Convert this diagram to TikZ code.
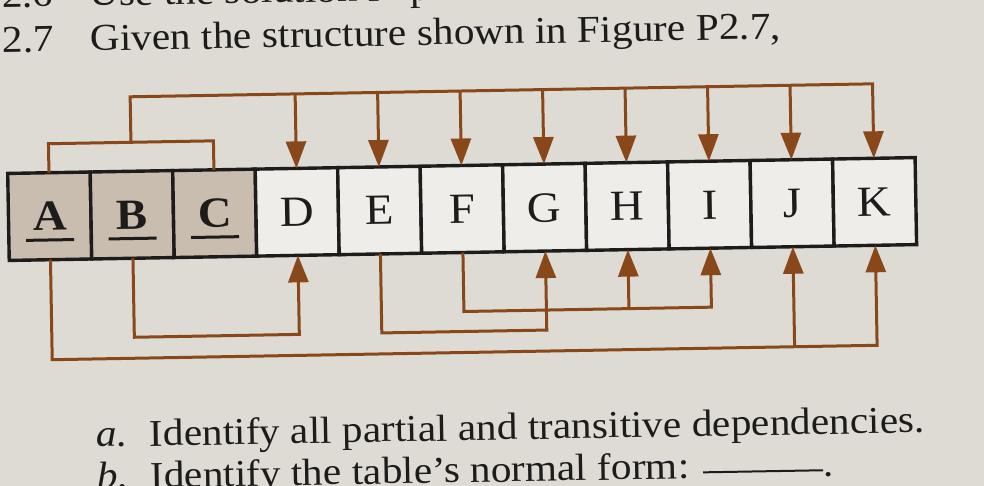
\documentclass[tikz,border=0pt]{standalone}
\usepackage{fontspec}
\setmainfont{Liberation Serif}[FakeStretch=1.09]
\usetikzlibrary{positioning, arrows.meta}

\definecolor{paper}{RGB}{222,219,213}
\definecolor{keytan}{RGB}{201,189,175}
\definecolor{attrpale}{RGB}{239,237,233}
\definecolor{depbrown}{RGB}{136,72,26}
\definecolor{inkgray}{RGB}{30,28,26}

% underlined key attribute
\newcommand{\pkey}[1]{\ooalign{\hfil\textbf{#1}\hfil\cr\hfil\rule[-11pt]{48pt}{3pt}\hfil\cr}}

\tikzset{
  attr/.style={draw=inkgray, line width=3.4pt, fill=attrpale, text=inkgray,
    minimum width=82.5pt, minimum height=87pt, inner sep=0pt, outer sep=0pt,
    font=\fontsize{43}{43}\selectfont, text height=28.5pt, text depth=0pt},
  keyattr/.style={attr, fill=keytan},
  dep/.style={draw=depbrown, line width=3pt},
  deparrow/.style={dep, -{Triangle[length=27pt, width=20pt]}},
  prob/.style={anchor=base west, inner sep=0pt, text=inkgray,
    font=\fontsize{37.9}{42}\selectfont}
}

\begin{document}
\begin{tikzpicture}[x=1pt, y=-1pt]
  \useasboundingbox (0,0) rectangle (984,486);
  \fill[paper] (0,0) rectangle (984,486);
  \clip (0,0) rectangle (984,486);

  \begin{scope}[rotate around={1:(492,243)}, transform shape]
    % question text
    \node[prob] (prevq) at (6,-1) {2.6\hspace{36pt}Use the solution in p};
    \node[prob] (thisq) at (6,44) {2.7\hspace{36pt}Given the structure shown in Figure P2.7,};

    % the table
    \node[keyattr] (A) at (50.25,208.5) {\pkey{A}};
    \node[keyattr, right=0pt of A] (B) {\pkey{B}};
    \node[keyattr, right=0pt of B] (C) {\pkey{C}};
    \node[attr, right=0pt of C] (D) {D};
    \node[attr, right=0pt of D] (E) {E};
    \node[attr, right=0pt of E] (F) {F};
    \node[attr, right=0pt of F] (G) {G};
    \node[attr, right=0pt of G] (H) {H};
    \node[attr, right=0pt of H] (I) {I};
    \node[attr, right=0pt of I] (J) {J};
    \node[attr, right=0pt of J] (K) {K};

    % levels of the dependency lines
    \coordinate (keyrow) at (0,136);
    \coordinate (toprow) at (0,90.5);
    \coordinate (nearrow) at (0,311);
    \coordinate (midrow) at (0,331);
    \coordinate (farrow) at (0,352);

    % full dependency
    \draw[dep] (A.north) -- (A.north |- keyrow) -- (C.north |- keyrow) -- (C.north);
    \draw[deparrow] (B.north |- keyrow) -- (B.north |- toprow) -| (K.north);
    \draw[deparrow] (D.north |- toprow) -- (D.north);
    \draw[deparrow] (E.north |- toprow) -- (E.north);
    \draw[deparrow] (F.north |- toprow) -- (F.north);
    \draw[deparrow] (G.north |- toprow) -- (G.north);
    \draw[deparrow] (H.north |- toprow) -- (H.north);
    \draw[deparrow] (I.north |- toprow) -- (I.north);
    \draw[deparrow] (J.north |- toprow) -- (J.north);

    % dependencies below the table
    \draw[deparrow] (B.south) -- (B.south |- midrow) -| (D.south);
    \draw[deparrow] (E.south) -- (E.south |- midrow) -| (G.south);
    \draw[deparrow] (F.south) -- (F.south |- nearrow) -| (I.south);
    \draw[deparrow] (H.south |- nearrow) -- (H.south);
    \draw[deparrow] (A.south) -- (A.south |- farrow) -| (K.south);
    \draw[deparrow] (J.south |- farrow) -- (J.south);

    % questions
    \node[prob] (parta) at (93,440) {\textit{a.}\hspace{22pt}Identify all partial and transitive dependencies.};
    \node[prob] (partb) at (93,482) {\textit{b.}\hspace{22pt}Identify the table's normal form: \rule[5pt]{120pt}{2pt}.};
  \end{scope}
\end{tikzpicture}
\end{document}
